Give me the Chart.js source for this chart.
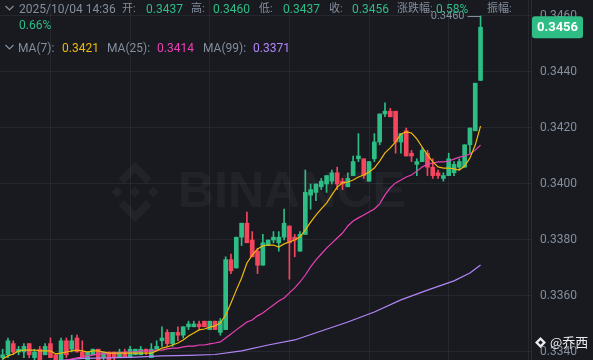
<!DOCTYPE html>
<html>
<head>
<meta charset="utf-8">
<script src="https://cdn.jsdelivr.net/npm/chart.js@4.4.1/dist/chart.umd.min.js"></script>
<style>
  html, body { margin: 0; padding: 0; background: #181a20; }
  #wrap { position: relative; width: 593px; height: 360px; overflow: hidden;
          font-family: Roboto, "Noto Sans CJK SC", sans-serif; font-size: 12px; color: #848e9c; }
  #wrap canvas { position: absolute; left: 0; top: 0; }
  .t { position: absolute; white-space: nowrap; line-height: 16px; }
  .cn { font-size: 11px; }
  .g { color: #2ebd85; }
  .chev { position: absolute; left: 5px; }
  #mark { position: absolute; left: 534px; top: 334px; color: #eaecef; font-size: 13px;
          font-family: "Noto Sans CJK SC", sans-serif; line-height: 16px; white-space: nowrap; }
</style>
</head>
<body>
<div id="wrap">
  <canvas id="kline" width="593" height="360"></canvas>

  <!-- header: OHLC of the last candle -->
  <svg class="chev" style="top:5px" width="9" height="7"><polyline points="0.5,1 4.5,5 8.5,1" fill="none" stroke="#848e9c" stroke-width="1.2"/></svg>
  <span class="t" style="left:19px;top:1px">2025/10/04 14:36</span>
  <span class="t cn" style="left:122px;top:1px">开:</span><span class="t g" style="left:146px;top:1px">0.3437</span>
  <span class="t cn" style="left:191px;top:1px">高:</span><span class="t g" style="left:213px;top:1px">0.3460</span>
  <span class="t cn" style="left:259px;top:1px">低:</span><span class="t g" style="left:283px;top:1px">0.3437</span>
  <span class="t cn" style="left:329px;top:1px">收:</span><span class="t g" style="left:352px;top:1px">0.3456</span>
  <span class="t cn" style="left:397px;top:1px">涨跌幅:</span><span class="t g" style="left:436px;top:1px">0.58%</span>
  <span class="t cn" style="left:487px;top:1px">振幅:</span>
  <span class="t g" style="left:19px;top:17px">0.66%</span>

  <!-- MA legend -->
  <svg class="chev" style="top:44px" width="9" height="7"><polyline points="0.5,1 4.5,5 8.5,1" fill="none" stroke="#848e9c" stroke-width="1.2"/></svg>
  <span class="t" style="left:18px;top:40px">MA(7):</span><span class="t" style="left:62px;top:40px;color:#f0b90b">0.3421</span>
  <span class="t" style="left:107px;top:40px">MA(25):</span><span class="t" style="left:157px;top:40px;color:#eb40b5">0.3414</span>
  <span class="t" style="left:203px;top:40px">MA(99):</span><span class="t" style="left:253px;top:40px;color:#b385f8">0.3371</span>

  <div id="mark"><svg width="13" height="13" style="vertical-align:-2px"><path d="M6.5 1 L12 6.5 L6.5 12 L1 6.5 Z M6.5 4.2 L8.8 6.5 L6.5 8.8 L4.2 6.5 Z" fill="#eaecef" fill-rule="evenodd"/></svg> @乔西</div>
</div>

<script>
// candles, oldest first
const opens = [
  0.3338, 0.3339, 0.3343, 0.3340, 0.3340, 0.3343, 0.3338, 0.3341, 0.3339, 0.3343,
  0.3339, 0.3336, 0.3344, 0.3341, 0.3345, 0.3340, 0.3337, 0.3339, 0.3341, 0.3338,
  0.3340, 0.3340, 0.3338, 0.3340, 0.3338, 0.3339, 0.3339, 0.3341, 0.3338, 0.3341,
  0.3344, 0.3347, 0.3343, 0.3347, 0.3346, 0.3349, 0.3349, 0.3350, 0.3351, 0.3348,
  0.3351, 0.3347, 0.3348, 0.3373, 0.3370, 0.3381, 0.3386, 0.3380, 0.3376, 0.3371,
  0.3378, 0.3380, 0.3379, 0.3381, 0.3385, 0.3381, 0.3376, 0.3382, 0.3396, 0.3397,
  0.3399, 0.3400, 0.3401, 0.3404, 0.3401, 0.3399, 0.3403, 0.3409, 0.3409, 0.3401,
  0.3409, 0.3415, 0.3425, 0.3426, 0.3426, 0.3415, 0.3419, 0.3411, 0.3407, 0.3408,
  0.3411, 0.3406, 0.3404, 0.3402, 0.3403, 0.3404, 0.3406, 0.3406, 0.3414, 0.3419,
  0.3437
];
const highs = [
  0.3341, 0.3345, 0.3344, 0.3342, 0.3343, 0.3343, 0.3341, 0.3342, 0.3343, 0.3345,
  0.3339, 0.3345, 0.3345, 0.3346, 0.3346, 0.3344, 0.3340, 0.3341, 0.3341, 0.3340,
  0.3340, 0.3340, 0.3341, 0.3341, 0.3342, 0.3341, 0.3342, 0.3341, 0.3343, 0.3344,
  0.3349, 0.3348, 0.3347, 0.3349, 0.3349, 0.3351, 0.3351, 0.3351, 0.3351, 0.3351,
  0.3351, 0.3352, 0.3374, 0.3375, 0.3381, 0.3386, 0.3390, 0.3383, 0.3377, 0.3382,
  0.3380, 0.3383, 0.3383, 0.3391, 0.3385, 0.3382, 0.3383, 0.3405, 0.3400, 0.3400,
  0.3402, 0.3403, 0.3405, 0.3406, 0.3402, 0.3404, 0.3410, 0.3418, 0.3409, 0.3408,
  0.3418, 0.3425, 0.3429, 0.3427, 0.3426, 0.3418, 0.3420, 0.3412, 0.3409, 0.3413,
  0.3412, 0.3409, 0.3405, 0.3404, 0.3411, 0.3408, 0.3409, 0.3414, 0.3420, 0.3436,
  0.3460
];
const lows = [
  0.3337, 0.3338, 0.3339, 0.3339, 0.3338, 0.3338, 0.3337, 0.3337, 0.3339, 0.3338,
  0.3336, 0.3336, 0.3338, 0.3340, 0.3340, 0.3338, 0.3337, 0.3339, 0.3337, 0.3337,
  0.3337, 0.3337, 0.3338, 0.3338, 0.3338, 0.3339, 0.3339, 0.3339, 0.3338, 0.3341,
  0.3342, 0.3342, 0.3342, 0.3344, 0.3345, 0.3348, 0.3349, 0.3348, 0.3349, 0.3348,
  0.3348, 0.3346, 0.3348, 0.3368, 0.3370, 0.3378, 0.3379, 0.3374, 0.3368, 0.3371,
  0.3378, 0.3379, 0.3376, 0.3380, 0.3366, 0.3374, 0.3376, 0.3382, 0.3391, 0.3394,
  0.3398, 0.3397, 0.3400, 0.3398, 0.3398, 0.3399, 0.3403, 0.3408, 0.3402, 0.3401,
  0.3408, 0.3414, 0.3424, 0.3424, 0.3411, 0.3411, 0.3410, 0.3408, 0.3403, 0.3408,
  0.3403, 0.3402, 0.3402, 0.3401, 0.3403, 0.3403, 0.3405, 0.3406, 0.3411, 0.3419,
  0.3437
];
const closes = [
  0.3339, 0.3344, 0.3340, 0.3341, 0.3342, 0.3339, 0.3340, 0.3337, 0.3342, 0.3338,
  0.3336, 0.3344, 0.3339, 0.3344, 0.3340, 0.3338, 0.3340, 0.3341, 0.3337, 0.3340,
  0.3337, 0.3338, 0.3340, 0.3338, 0.3341, 0.3341, 0.3341, 0.3340, 0.3341, 0.3342,
  0.3345, 0.3343, 0.3347, 0.3346, 0.3349, 0.3350, 0.3350, 0.3349, 0.3349, 0.3351,
  0.3348, 0.3351, 0.3373, 0.3369, 0.3381, 0.3386, 0.3379, 0.3374, 0.3371, 0.3379,
  0.3380, 0.3381, 0.3381, 0.3386, 0.3379, 0.3380, 0.3382, 0.3397, 0.3398, 0.3400,
  0.3401, 0.3403, 0.3404, 0.3400, 0.3400, 0.3402, 0.3408, 0.3410, 0.3403, 0.3408,
  0.3415, 0.3425, 0.3426, 0.3424, 0.3415, 0.3418, 0.3410, 0.3410, 0.3408, 0.3412,
  0.3406, 0.3403, 0.3403, 0.3403, 0.3409, 0.3407, 0.3408, 0.3414, 0.3420, 0.3436,
  0.3456
];

// moving averages
const ma7 = [
  0.33375, 0.33386, 0.33393, 0.33404, 0.33407, 0.33407, 0.33407, 0.33404, 0.33404, 0.33404,
  0.33393, 0.33396, 0.33400, 0.33404, 0.33407, 0.33404, 0.33400, 0.33404, 0.33404, 0.33400,
  0.33396, 0.33396, 0.33396, 0.33396, 0.33396, 0.33396, 0.33396, 0.33396, 0.33396, 0.33404,
  0.33414, 0.33418, 0.33425, 0.33432, 0.33443, 0.33457, 0.33468, 0.33479, 0.33482, 0.33489,
  0.33493, 0.33504, 0.33532, 0.33575, 0.33621, 0.33664, 0.33718, 0.33746, 0.33768, 0.33779,
  0.33782, 0.33782, 0.33775, 0.33786, 0.33793, 0.33800, 0.33811, 0.33836, 0.33864, 0.33889,
  0.33911, 0.33932, 0.33961, 0.33989, 0.34004, 0.34007, 0.34014, 0.34025, 0.34032, 0.34043,
  0.34057, 0.34082, 0.34111, 0.34129, 0.34150, 0.34179, 0.34186, 0.34182, 0.34161, 0.34132,
  0.34104, 0.34079, 0.34061, 0.34057, 0.34057, 0.34054, 0.34050, 0.34064, 0.34093, 0.34139,
  0.34207
];
const ma25 = [
  0.33329, 0.33332, 0.33336, 0.33339, 0.33343, 0.33346, 0.33350, 0.33354, 0.33357, 0.33361,
  0.33364, 0.33368, 0.33371, 0.33375, 0.33379, 0.33382, 0.33386, 0.33389, 0.33393, 0.33393,
  0.33396, 0.33396, 0.33396, 0.33400, 0.33400, 0.33400, 0.33404, 0.33404, 0.33404, 0.33407,
  0.33407, 0.33411, 0.33414, 0.33414, 0.33418, 0.33421, 0.33421, 0.33425, 0.33425, 0.33429,
  0.33432, 0.33436, 0.33450, 0.33464, 0.33479, 0.33493, 0.33507, 0.33514, 0.33529, 0.33539,
  0.33554, 0.33568, 0.33582, 0.33593, 0.33611, 0.33629, 0.33650, 0.33675, 0.33704, 0.33729,
  0.33750, 0.33771, 0.33789, 0.33807, 0.33825, 0.33850, 0.33868, 0.33879, 0.33889, 0.33900,
  0.33911, 0.33929, 0.33961, 0.33986, 0.34004, 0.34014, 0.34025, 0.34032, 0.34046, 0.34061,
  0.34071, 0.34075, 0.34079, 0.34079, 0.34082, 0.34089, 0.34096, 0.34100, 0.34107, 0.34121,
  0.34139
];
// MA(99) read at a few candles only, [candle index, value]
const ma99Points = [
  [0, 0.33357], [5, 0.33361], [10, 0.33368], [15, 0.33377], [20, 0.33379],
  [25, 0.33382], [30, 0.33386], [35, 0.33388], [40, 0.33391], [45, 0.33404],
  [50, 0.33425], [55, 0.33443], [60, 0.33475], [65, 0.33507], [70, 0.33543],
  [75, 0.33586], [80, 0.33621], [85, 0.33654], [88, 0.33682], [90, 0.33711]
];

const yTicks = [0.3340, 0.3360, 0.3380, 0.3400, 0.3420, 0.3440, 0.3460];
const slotCount = 100; // candles + empty space on the right

const green = '#2ebd85';
const red = '#f6465d';

const slots = Array.from({ length: slotCount }, (_, i) => 'k' + i);
const candleColors = opens.map((o, i) => closes[i] >= o ? green : red);
const ma99 = slots.map(() => null);
ma99Points.forEach(([i, v]) => { ma99[i] = v; });

const overlay = {
  id: 'overlay',
  beforeDatasetsDraw(chart) {
    const ctx = chart.ctx;
    ctx.save();
    ctx.fillStyle = 'rgba(255,255,255,0.045)';
    // logo
    ctx.translate(135, 192);
    ctx.scale(30, 30);
    ctx.beginPath();
    const diamond = (cx, cy, r) => {
      ctx.moveTo(cx, cy - r); ctx.lineTo(cx + r, cy); ctx.lineTo(cx, cy + r); ctx.lineTo(cx - r, cy); ctx.closePath();
    };
    diamond(0, 0, 0.18);
    diamond(-0.6, 0, 0.18);
    diamond(0.6, 0, 0.18);
    ctx.moveTo(0, -1); ctx.lineTo(0.55, -0.45); ctx.lineTo(0.37, -0.27); ctx.lineTo(0, -0.64);
    ctx.lineTo(-0.37, -0.27); ctx.lineTo(-0.55, -0.45); ctx.closePath();
    ctx.moveTo(0, 1); ctx.lineTo(0.55, 0.45); ctx.lineTo(0.37, 0.27); ctx.lineTo(0, 0.64);
    ctx.lineTo(-0.37, 0.27); ctx.lineTo(-0.55, 0.45); ctx.closePath();
    ctx.fill();
    ctx.setTransform(1, 0, 0, 1, 0, 0);
    ctx.font = 'bold 50px "Liberation Sans"';
    ctx.textBaseline = 'middle';
    ctx.fillText('BINANCE', 178, 193);
    ctx.restore();
  },
  afterDraw(chart) {
    const ctx = chart.ctx;
    const x = chart.scales.x;
    const y = chart.scales.y;
    const last = closes.length - 1;

    // high marker on the last candle
    const cx = x.getPixelForValue(last);
    const hy = Math.round(y.getPixelForValue(highs[last])) + 0.5;
    ctx.save();
    ctx.strokeStyle = '#848e9c';
    ctx.lineWidth = 1;
    ctx.beginPath();
    ctx.moveTo(cx - 13, hy);
    ctx.lineTo(cx, hy);
    ctx.stroke();
    ctx.fillStyle = '#848e9c';
    ctx.font = '11px Roboto';
    ctx.textAlign = 'right';
    ctx.textBaseline = 'middle';
    ctx.fillText(highs[last].toFixed(4), cx - 16, hy);

    // last price tag
    const py = y.getPixelForValue(closes[last]);
    ctx.fillStyle = green;
    ctx.beginPath();
    ctx.roundRect(532, py - 11, 51, 22, 3);
    ctx.fill();
    ctx.fillStyle = '#ffffff';
    ctx.font = 'bold 13px Roboto';
    ctx.textAlign = 'center';
    ctx.fillText(closes[last].toFixed(4), 557.5, py + 0.5);
    ctx.restore();
  }
};

new Chart(document.getElementById('kline'), {
  data: {
    labels: slots,
    datasets: [
      { type: 'line', data: ma7, borderColor: '#f0b90b', borderWidth: 1.2, pointRadius: 0 },
      { type: 'line', data: ma25, borderColor: '#eb40b5', borderWidth: 1.2, pointRadius: 0 },
      { type: 'line', data: ma99, borderColor: '#b385f8', borderWidth: 1.2, pointRadius: 0, spanGaps: true },
      {
        type: 'bar',
        data: opens.map((o, i) => [o, closes[i]]),
        backgroundColor: candleColors,
        barThickness: 4,
        minBarLength: 1,
        grouped: false
      },
      {
        type: 'bar',
        data: lows.map((l, i) => [l, highs[i]]),
        backgroundColor: candleColors,
        barThickness: 1,
        grouped: false
      }
    ]
  },
  options: {
    responsive: false,
    animation: false,
    layout: { padding: 0, autoPadding: false },
    plugins: { legend: { display: false }, tooltip: { enabled: false } },
    scales: {
      x: {
        offset: true,
        ticks: { display: false, autoSkip: false },
        border: { display: false },
        grid: {
          offset: false,
          drawTicks: false,
          color: ctx => (ctx.index - 9) % 15 === 0 ? 'rgba(255,255,255,0.06)' : 'transparent'
        },
        afterFit: scale => { scale.height = 0; }
      },
      y: {
        position: 'right',
        min: 0.333714,
        max: 0.346571,
        afterBuildTicks: scale => { scale.ticks = yTicks.map(v => ({ value: v })); },
        afterFit: scale => {
          scale.width = 62;
          scale.paddingTop = 0;
          scale.paddingBottom = 0;
        },
        ticks: {
          color: '#848e9c',
          padding: 9,
          autoSkip: false,
          font: { family: 'Roboto', size: 12 },
          callback: v => Number(v).toFixed(4)
        },
        grid: { color: 'rgba(255,255,255,0.06)', drawTicks: false },
        border: { color: 'rgba(255,255,255,0.08)' }
      }
    }
  },
  plugins: [overlay]
});
</script>
</body>
</html>
